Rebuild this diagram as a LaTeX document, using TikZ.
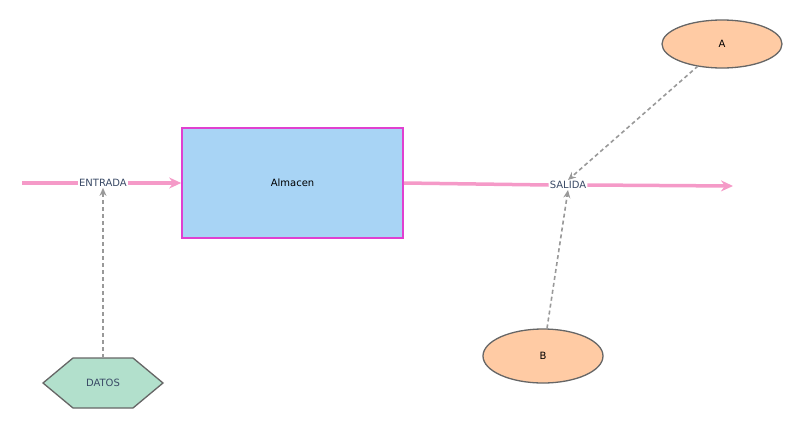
\documentclass[tikz,border=0pt]{standalone}
\usepackage{fontspec}
\setmainfont{DejaVu Sans}
\usetikzlibrary{shapes.geometric,arrows.meta}
\definecolor{pk}{HTML}{F59AC8}
\definecolor{bx}{HTML}{A8D4F5}
\definecolor{bd}{HTML}{E040D0}
\definecolor{el}{HTML}{FFCBA4}
\definecolor{hx}{HTML}{B2E0CC}
\definecolor{gr}{HTML}{666666}
\definecolor{dg}{HTML}{999999}
\definecolor{tx}{HTML}{3A4A66}
\begin{document}
\begin{tikzpicture}[x=1pt,y=-1pt,
  flow/.style={pk,line width=3.5pt,-{Stealth[length=12pt,width=11pt]}},
  line/.style={pk,line width=3.5pt},
  lbl/.style={fill=white,inner sep=1pt,text=tx,font=\normalsize},
  dep/.style={dg,dash pattern=on 4pt off 3pt,line width=1.6pt,-{Stealth[length=8pt,width=7pt]}},
  ell/.style={ellipse,draw=gr,line width=1.3pt,fill=el,minimum width=120pt,minimum height=48pt,font=\normalsize}]
\useasboundingbox (0,0) rectangle (800,429);
\coordinate (s0) at (22,183);
\node[draw=bd,line width=1.6pt,fill=bx,minimum width=221pt,minimum height=110pt,font=\normalsize,inner sep=0pt] (alm) at (292.5,183) {Almacen};
\coordinate (s1) at (733,186);
\node[ell] (A) at (722,44) {A};
\node[ell,minimum height=54pt] (B) at (543,356) {B};
\filldraw[draw=gr,line width=1.3pt,fill=hx] (43,383) -- (73,358) -- (133,358) -- (163,383) -- (133,408) -- (73,408) -- cycle;
\node[font=\normalsize,text=tx,minimum width=120pt,minimum height=50pt] (D) at (103,383) {DATOS};
\node[lbl] (en) at (103,183) {ENTRADA};
\node[lbl] (sa) at (568,185) {SALIDA};
\draw[line] (s0) -- (en.west);
\draw[flow] (en.east) -- (alm.west);
\draw[line] (alm.east) -- (sa.west);
\draw[flow] (sa.east) -- (s1);
\draw[dep] (D.north) -- (en.south);
\draw[dep] (B.north) ++(4,0) -- (sa.south);
\draw[dep] (A) ++(-24,22) -- (sa.north);
\end{tikzpicture}
\end{document}
